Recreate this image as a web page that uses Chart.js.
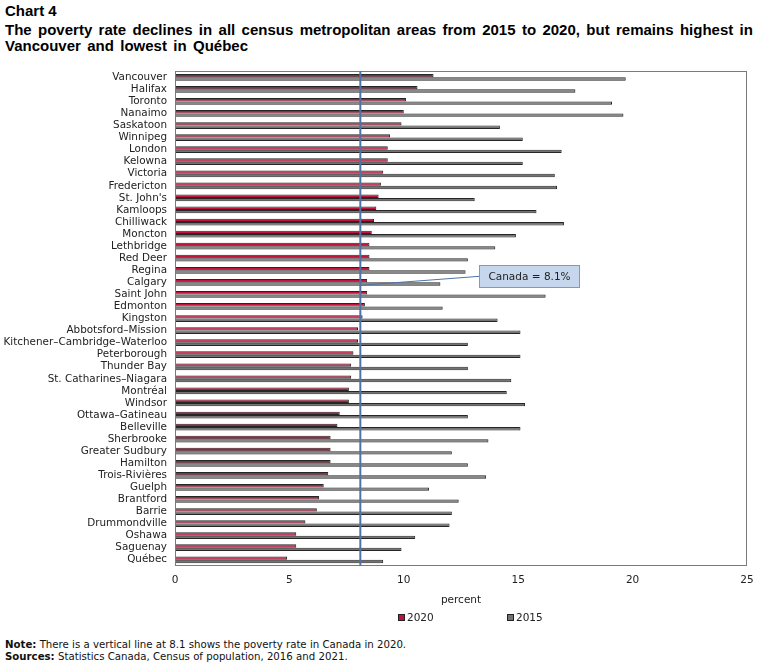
<!DOCTYPE html>
<html><head><meta charset="utf-8">
<script src="https://cdn.jsdelivr.net/npm/chart.js@4.4.1/dist/chart.umd.min.js"></script>
<style>
body{margin:0;width:768px;height:666px;position:relative;background:#fff;font-family:"DejaVu Sans",Verdana,sans-serif;overflow:hidden;color:#000}
#chartno{position:absolute;left:5px;top:3px;font-family:"Liberation Sans",Arial,sans-serif;font-weight:bold;font-size:15px;line-height:16px}
#title{position:absolute;left:5px;top:22px;width:763px;font-family:"Liberation Sans",Arial,sans-serif;font-weight:bold;font-size:15px;line-height:16px;white-space:nowrap;word-spacing:2.2px}
#wrap{position:absolute;left:0;top:57px;width:768px;height:555px}
#legend{position:absolute;top:610px;left:0;width:768px;height:14px;font-size:10.5px;color:#222}
.li{position:absolute;top:0;line-height:14px;white-space:nowrap}
.sw{display:inline-block;width:5px;height:5px;border:1px solid #222;margin-right:2px;vertical-align:0px}
#notes{position:absolute;left:5px;top:639px;font-size:10.2px;line-height:12px;color:#111;white-space:nowrap}
</style>
</head><body>
<div id="chartno">Chart 4</div>
<div id="title">The poverty rate declines in all census metropolitan areas from 2015 to 2020, but remains highest in<br>Vancouver and lowest in Québec</div>
<div id="wrap"><canvas id="c"></canvas></div>
<div id="legend"></div>
<div id="notes"><b>Note:</b> There is a vertical line at 8.1 shows the poverty rate in Canada in 2020.<br><b>Sources:</b> Statistics Canada, Census of population, 2016 and 2021.</div>
<script>
const categories = ["Vancouver","Halifax","Toronto","Nanaimo","Saskatoon","Winnipeg","London","Kelowna","Victoria","Fredericton","St. John's","Kamloops","Chilliwack","Moncton","Lethbridge","Red Deer","Regina","Calgary","Saint John","Edmonton","Kingston","Abbotsford–Mission","Kitchener–Cambridge–Waterloo","Peterborough","Thunder Bay","St. Catharines–Niagara","Montréal","Windsor","Ottawa–Gatineau","Belleville","Sherbrooke","Greater Sudbury","Hamilton","Trois-Rivières","Guelph","Brantford","Barrie","Drummondville","Oshawa","Saguenay","Québec"];
const rate2020 = [11.3,10.6,10.1,10.0,9.9,9.4,9.3,9.3,9.1,9.0,8.9,8.8,8.7,8.6,8.5,8.5,8.5,8.4,8.4,8.3,8.2,8.0,8.0,7.8,7.7,7.7,7.6,7.6,7.2,7.1,6.8,6.8,6.8,6.7,6.5,6.3,6.2,5.7,5.3,5.3,4.9];
const rate2015 = [19.7,17.5,19.1,19.6,14.2,15.2,16.9,15.2,16.6,16.7,13.1,15.8,17.0,14.9,14.0,12.8,12.7,11.6,16.2,11.7,14.1,15.1,12.8,15.1,12.8,14.7,14.5,15.3,12.8,15.1,13.7,12.1,12.8,13.6,11.1,12.4,12.1,12.0,10.5,9.9,9.1];
const seriesNames = ["2020","2015"];
const xTicks = [0,5,10,15,20,25];
const canadaRate = 8.1;
const canadaLabel = "Canada = 8.1%";

const colors = {r2020:"#C0143F", r2015:"#737373", border:"#262626", line:"#4E72A6", frame:"#7A7A7A"};

const refPlugin = {
  id:"refPlugin",
  afterDatasetsDraw(chart){
    const {ctx, chartArea:a, scales:{x,y}} = chart;
    ctx.save();
    ctx.strokeStyle = colors.frame; ctx.lineWidth = 1;
    ctx.strokeRect(Math.round(a.left)+0.5, Math.round(a.top)+0.5, Math.round(a.right-a.left)-1, Math.round(a.bottom-a.top)-1);
    const xp = x.getPixelForValue(canadaRate);
    ctx.strokeStyle = colors.line; ctx.lineWidth = 2;
    ctx.beginPath(); ctx.moveTo(xp, a.top); ctx.lineTo(xp, a.bottom); ctx.stroke();
    const iReg = categories.indexOf("Regina"), iCal = categories.indexOf("Calgary");
    const yMid = (y.getPixelForValue(iReg)+y.getPixelForValue(iCal))/2;
    const bx = Math.round(x.getPixelForValue(13.3))+0.5, bw = 100, bh = 22, by = Math.round(yMid - bh/2)+0.5;
    ctx.strokeStyle = colors.line; ctx.lineWidth = 1;
    ctx.beginPath(); ctx.moveTo(bx, yMid); ctx.lineTo(xp, y.getPixelForValue(iCal)+3); ctx.stroke();
    ctx.fillStyle = "#C6D6EC"; ctx.strokeStyle = "#7C9AC4";
    ctx.fillRect(bx, by, bw, bh); ctx.strokeRect(bx, by, bw, bh);
    ctx.fillStyle = "#222"; ctx.font = '10.5px "DejaVu Sans"'; ctx.textAlign = "center"; ctx.textBaseline = "middle";
    ctx.fillText(canadaLabel, bx + bw/2, by + bh/2 + 0.5);
    ctx.restore();
  }
};

const chart = new Chart(document.getElementById("c"), {
  type:"bar",
  data:{
    labels: categories,
    datasets:[
      {label:seriesNames[0], data:rate2020, backgroundColor:colors.r2020, borderColor:colors.border, borderWidth:1, categoryPercentage:0.56, barPercentage:1},
      {label:seriesNames[1], data:rate2015, backgroundColor:colors.r2015, borderColor:colors.border, borderWidth:1, categoryPercentage:0.56, barPercentage:1}
    ]
  },
  options:{
    indexAxis:"y", responsive:true, maintainAspectRatio:false, animation:false,
    layout:{padding:{left:0,right:21,top:3,bottom:3}},
    plugins:{legend:{display:false}, tooltip:{enabled:false}},
    scales:{
      x:{min:0,max:25, afterBuildTicks(s){ s.ticks = xTicks.map(v=>({value:v})); },
         grid:{display:false, drawTicks:false}, border:{display:false},
         ticks:{padding:8, color:"#222", font:{family:"DejaVu Sans", size:10.5}},
         title:{display:true, text:"percent", color:"#222", font:{family:"DejaVu Sans", size:10.5}, padding:{top:0,bottom:2}}},
      y:{grid:{display:false, drawTicks:false}, border:{display:false},
         afterFit(s){ s.width = 175; },
         ticks:{autoSkip:false, padding:8, color:"#222", font:{family:"DejaVu Sans", size:10.4}}}
    }
  },
  plugins:[refPlugin]
});

const lg = document.getElementById("legend");
const legendX = [398, 507];
chart.data.datasets.forEach((d,i)=>{
  const el = document.createElement("span");
  el.className = "li"; el.style.left = legendX[i]+"px";
  el.innerHTML = '<span class="sw" style="background:'+d.backgroundColor+'"></span>'+d.label;
  lg.appendChild(el);
});
</script>
</body></html>
